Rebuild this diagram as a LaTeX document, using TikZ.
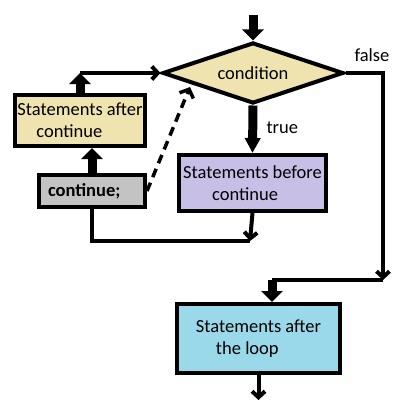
\documentclass[tikz,border=0pt]{standalone}
\usepackage{fontspec}
\setmainfont{Carlito}
\usetikzlibrary{shapes.geometric,arrows.meta,positioning,calc}

\definecolor{tanfill}{HTML}{EFE4B0}
\definecolor{lilacfill}{HTML}{C8BFE7}
\definecolor{greyfill}{HTML}{C3C3C3}
\definecolor{cyanfill}{HTML}{99D9EA}

\begin{document}
\begin{tikzpicture}
[x=1pt,y=1pt,
font=\fontsize{18.5}{22}\selectfont,
%
box/.style={shape=rectangle,draw=black,line width=4pt,inner sep=2pt,align=left},
decision/.style={shape=diamond,draw=black,line width=4pt,fill=tanfill,aspect=3,
  inner sep=0pt,minimum width=181pt,minimum height=61pt},
%
line/.style={line width=4pt},
fat/.style={line width=9pt,-{Triangle[width=21pt,length=11pt]}},
thin/.style={line width=4pt,-{Straight Barb[length=6pt,width=13pt]}},
dashline/.style={line width=3.5pt,dash pattern=on 9pt off 6pt,-{Straight Barb[length=7pt,width=15pt]}}]

\useasboundingbox (0,0) rectangle (411,408);

\node (cond) [decision] at (253,335) {condition};
\node (afterc) [box,fill=tanfill,minimum width=130pt,minimum height=51pt] at (80,287.5)
  {Statements after\\\hspace*{19pt}continue};
\node (cont) [box,fill=greyfill,minimum width=106pt,minimum height=32pt,
  inner xsep=9pt,text width=88pt] at (92,217) {\textbf{continue;}};
\node (before) [box,fill=lilacfill,minimum width=147pt,minimum height=56pt] at (252.5,225)
  {Statements before\\\hspace*{29pt}continue};
\node (afterl) [box,fill=cyanfill,minimum width=163pt,minimum height=69pt] at (258.5,69.5)
  {Statements after\\\hspace*{20pt}the loop};

\node (flabel) at (372,353) {false};
\node (tlabel) [anchor=west] at (263,280) {true};

\coordinate (start) at (253,393);
\coordinate (f1) at (383,335);
\coordinate (f2) at (383,128);
\coordinate (f3) at (272,128);
\coordinate (c1) at (250,167);
\coordinate (c2) at (afterc.north |- cond.west);
\coordinate (d2) at (190,321);
\coordinate (stop) at (255,8);

% into the loop
\draw[fat] (start) -- (cond.north);
\draw[line width=9pt,-{Triangle[width=15pt,length=15pt]}] (cond.south) -- (before.north);

% continue path
\draw[thin] (before.south) -- (c1);
\draw[line] (c1) -| (cont.south);
\draw[fat] (cont.north) -- (cont.north |- afterc.south);
\draw[fat] (afterc.north) -- (c2);
\draw[thin] (c2) -- (cond.west);
\draw[dashline] (cont.east) -- (d2);

% leaving the loop
\draw[thin] (cond.east) -- (f1) -- (f2);
\draw[line] (f2) -- (f3);
\draw[fat] (f3) -- (f3 |- afterl.north);
\draw[thin] (afterl.south) -- (afterl.south |- stop);

\end{tikzpicture}
\end{document}
